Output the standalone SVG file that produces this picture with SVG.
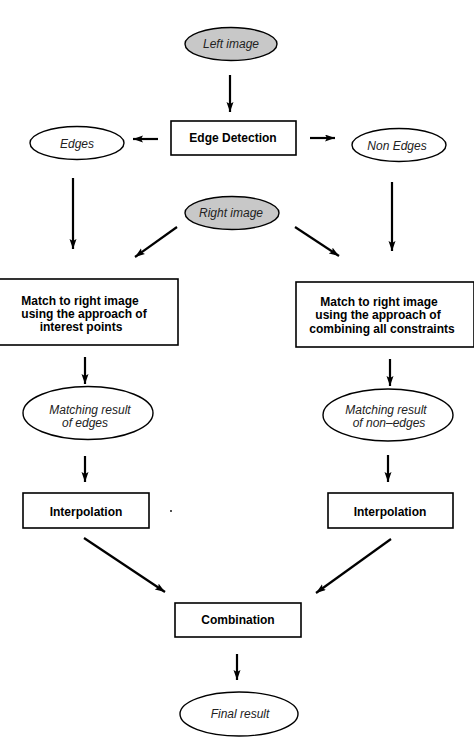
<svg xmlns="http://www.w3.org/2000/svg" width="474" height="741" viewBox="0 0 474 741">
<defs>
<marker id="ah" markerUnits="userSpaceOnUse" markerWidth="11" markerHeight="8" refX="10" refY="3.5" orient="auto">
<path d="M0,0 L10,3.5 L0,7 L2,3.5 z" fill="#000"/>
</marker>
<style>
.box{fill:#fff;stroke:#000;stroke-width:1.6}
.ell{fill:#fff;stroke:#000;stroke-width:1.4}
.gray{fill:#c8c8c8;stroke:#000;stroke-width:1.4}
.bt{font-family:"Liberation Sans",Arial,sans-serif;font-weight:bold;font-size:12px;text-anchor:middle;fill:#000}
.it{font-family:"Liberation Sans",Arial,sans-serif;font-style:italic;font-size:12px;text-anchor:middle;fill:#222}
.c{stroke:#000;stroke-width:2.2;fill:none;marker-end:url(#ah)}
</style>
</defs>
<rect width="474" height="741" fill="#fff"/>
<g id="connectors">
<line class="c" x1="230" y1="75" x2="230" y2="112"/>
<line class="c" x1="158" y1="139" x2="133" y2="139"/>
<line class="c" x1="310" y1="138" x2="335" y2="138"/>
<line class="c" x1="73" y1="178" x2="73" y2="249"/>
<line class="c" x1="392" y1="182" x2="392" y2="251"/>
<line class="c" x1="177" y1="227" x2="135" y2="257"/>
<line class="c" x1="295" y1="227" x2="339" y2="256"/>
<line class="c" x1="85" y1="357" x2="85" y2="384"/>
<line class="c" x1="390" y1="359" x2="390" y2="386"/>
<line class="c" x1="85" y1="456" x2="85" y2="482"/>
<line class="c" x1="388" y1="455" x2="388" y2="482"/>
<line class="c" x1="84" y1="538" x2="165" y2="592"/>
<line class="c" x1="391" y1="539" x2="316" y2="593"/>
<line class="c" x1="237" y1="654" x2="237" y2="680"/>
</g>
<g id="left-image">
<ellipse class="gray" cx="231" cy="44" rx="46" ry="16.5"/>
<text class="it" x="231" y="48">Left image</text>
</g>
<g id="edge-detection">
<rect class="box" x="171" y="121" width="125" height="34"/>
<text class="bt" x="233" y="142">Edge Detection</text>
</g>
<g id="edges">
<ellipse class="ell" cx="77" cy="143" rx="47" ry="16.5"/>
<text class="it" x="77" y="148">Edges</text>
</g>
<g id="non-edges">
<ellipse class="ell" cx="399" cy="145" rx="47" ry="16.5"/>
<text class="it" x="397" y="150">Non Edges</text>
</g>
<g id="right-image">
<ellipse class="gray" cx="232" cy="213" rx="47" ry="16.5"/>
<text class="it" x="231" y="217">Right image</text>
</g>
<g id="match-left">
<rect class="box" x="-1" y="279" width="179" height="66"/>
<text class="bt" x="80" y="305">Match to right image</text>
<text class="bt" x="84" y="318">using  the approach of</text>
<text class="bt" x="81" y="331">interest points</text>
</g>
<g id="match-right">
<rect class="box" x="296" y="282" width="178" height="65"/>
<text class="bt" x="379" y="306">Match to right image</text>
<text class="bt" x="378" y="319">using the approach of</text>
<text class="bt" x="382" y="333">combining all constraints</text>
</g>
<g id="matching-edges">
<ellipse class="ell" cx="88" cy="413" rx="65" ry="26.5"/>
<text class="it" x="90" y="414">Matching result</text>
<text class="it" x="85" y="427">of edges</text>
</g>
<g id="matching-non-edges">
<ellipse class="ell" cx="388" cy="415" rx="65" ry="26"/>
<text class="it" x="386" y="414">Matching result</text>
<text class="it" x="389" y="427">of non–edges</text>
</g>
<g id="interp-left">
<rect class="box" x="23" y="493" width="126" height="35"/>
<text class="bt" x="86" y="516">Interpolation</text>
</g>
<circle cx="171" cy="511" r="0.9" fill="#000"/>
<g id="interp-right">
<rect class="box" x="328" y="493" width="125" height="35"/>
<text class="bt" x="390" y="516">Interpolation</text>
</g>
<g id="combination">
<rect class="box" x="175" y="603" width="126" height="34"/>
<text class="bt" x="238" y="624">Combination</text>
</g>
<g id="final-result">
<ellipse class="ell" cx="239" cy="714" rx="59" ry="22"/>
<text class="it" x="240" y="718">Final result</text>
</g>
</svg>
